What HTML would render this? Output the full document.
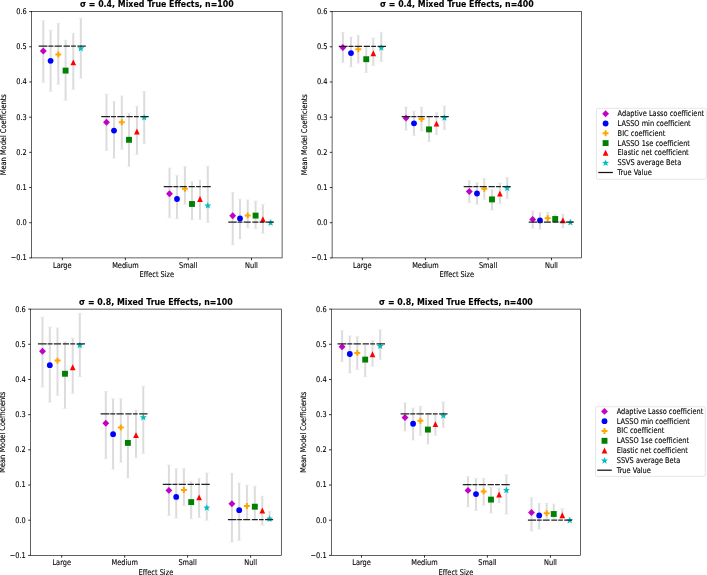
<!DOCTYPE html>
<html><head><meta charset="utf-8"><title>Mixed True Effects</title>
<style>
html,body{margin:0;padding:0;background:#fff;}
body{width:707px;height:575px;overflow:hidden;}
svg{display:block;}
text{font-family:'DejaVu Sans Condensed', 'DejaVu Sans', sans-serif;font-size:7.35px;fill:#000;stroke:#000;stroke-width:0.1px;}
text.ti{font-family:'DejaVu Sans Condensed','DejaVu Sans',sans-serif;font-weight:bold;font-size:8.75px;fill:#000;}
.eb{stroke:#dcdcdc;stroke-width:2;}
.cap{stroke:#e6e6e6;stroke-width:0.7;}
.tl{stroke:#222;stroke-width:1.25;fill:none;}
.sp{fill:none;stroke:#000;stroke-width:0.62;}
.tk{stroke:#000;stroke-width:0.8;}
.lg{fill:#fff;fill-opacity:0.8;stroke:#d6d6d6;stroke-width:0.62;}
.lgl{stroke:#111;stroke-width:1.25;}
</style></head>
<body><svg width="707" height="575" viewBox="0 0 707 575">
<rect width="707" height="575" fill="#fff"/>
<line x1="43.3" y1="20.8" x2="43.3" y2="82.3" class="eb"/>
<line x1="41.1" y1="20.8" x2="45.5" y2="20.8" class="cap"/>
<line x1="41.1" y1="82.3" x2="45.5" y2="82.3" class="cap"/>
<line x1="50.6" y1="30.2" x2="50.6" y2="91.25" class="eb"/>
<line x1="48.4" y1="30.2" x2="52.8" y2="30.2" class="cap"/>
<line x1="48.4" y1="91.25" x2="52.8" y2="91.25" class="cap"/>
<line x1="58.3" y1="23.3" x2="58.3" y2="84.4" class="eb"/>
<line x1="56.1" y1="23.3" x2="60.5" y2="23.3" class="cap"/>
<line x1="56.1" y1="84.4" x2="60.5" y2="84.4" class="cap"/>
<line x1="65.6" y1="40.2" x2="65.6" y2="100.2" class="eb"/>
<line x1="63.4" y1="40.2" x2="67.8" y2="40.2" class="cap"/>
<line x1="63.4" y1="100.2" x2="67.8" y2="100.2" class="cap"/>
<line x1="73.3" y1="33.3" x2="73.3" y2="89.4" class="eb"/>
<line x1="71.1" y1="33.3" x2="75.5" y2="33.3" class="cap"/>
<line x1="71.1" y1="89.4" x2="75.5" y2="89.4" class="cap"/>
<line x1="80.8" y1="18.3" x2="80.8" y2="78.1" class="eb"/>
<line x1="78.6" y1="18.3" x2="83" y2="18.3" class="cap"/>
<line x1="78.6" y1="78.1" x2="83" y2="78.1" class="cap"/>
<line x1="106.5" y1="94.2" x2="106.5" y2="150.2" class="eb"/>
<line x1="104.3" y1="94.2" x2="108.7" y2="94.2" class="cap"/>
<line x1="104.3" y1="150.2" x2="108.7" y2="150.2" class="cap"/>
<line x1="114" y1="101.7" x2="114" y2="158.1" class="eb"/>
<line x1="111.8" y1="101.7" x2="116.2" y2="101.7" class="cap"/>
<line x1="111.8" y1="158.1" x2="116.2" y2="158.1" class="cap"/>
<line x1="121.8" y1="96" x2="121.8" y2="149.2" class="eb"/>
<line x1="119.6" y1="96" x2="124" y2="96" class="cap"/>
<line x1="119.6" y1="149.2" x2="124" y2="149.2" class="cap"/>
<line x1="129" y1="113.3" x2="129" y2="166.25" class="eb"/>
<line x1="126.8" y1="113.3" x2="131.2" y2="113.3" class="cap"/>
<line x1="126.8" y1="166.25" x2="131.2" y2="166.25" class="cap"/>
<line x1="136.9" y1="106.25" x2="136.9" y2="154.4" class="eb"/>
<line x1="134.7" y1="106.25" x2="139.1" y2="106.25" class="cap"/>
<line x1="134.7" y1="154.4" x2="139.1" y2="154.4" class="cap"/>
<line x1="144.2" y1="91.5" x2="144.2" y2="143.5" class="eb"/>
<line x1="142" y1="91.5" x2="146.4" y2="91.5" class="cap"/>
<line x1="142" y1="143.5" x2="146.4" y2="143.5" class="cap"/>
<line x1="169.5" y1="168.1" x2="169.5" y2="217.7" class="eb"/>
<line x1="167.3" y1="168.1" x2="171.7" y2="168.1" class="cap"/>
<line x1="167.3" y1="217.7" x2="171.7" y2="217.7" class="cap"/>
<line x1="177" y1="175.4" x2="177" y2="218.75" class="eb"/>
<line x1="174.8" y1="175.4" x2="179.2" y2="175.4" class="cap"/>
<line x1="174.8" y1="218.75" x2="179.2" y2="218.75" class="cap"/>
<line x1="184.9" y1="166.7" x2="184.9" y2="204.2" class="eb"/>
<line x1="182.7" y1="166.7" x2="187.1" y2="166.7" class="cap"/>
<line x1="182.7" y1="204.2" x2="187.1" y2="204.2" class="cap"/>
<line x1="192" y1="181.7" x2="192" y2="219.8" class="eb"/>
<line x1="189.8" y1="181.7" x2="194.2" y2="181.7" class="cap"/>
<line x1="189.8" y1="219.8" x2="194.2" y2="219.8" class="cap"/>
<line x1="200" y1="180.2" x2="200" y2="219.2" class="eb"/>
<line x1="197.8" y1="180.2" x2="202.2" y2="180.2" class="cap"/>
<line x1="197.8" y1="219.2" x2="202.2" y2="219.2" class="cap"/>
<line x1="207.8" y1="166.25" x2="207.8" y2="222.3" class="eb"/>
<line x1="205.6" y1="166.25" x2="210" y2="166.25" class="cap"/>
<line x1="205.6" y1="222.3" x2="210" y2="222.3" class="cap"/>
<line x1="232.7" y1="192.3" x2="232.7" y2="244.8" class="eb"/>
<line x1="230.5" y1="192.3" x2="234.9" y2="192.3" class="cap"/>
<line x1="230.5" y1="244.8" x2="234.9" y2="244.8" class="cap"/>
<line x1="240" y1="199.2" x2="240" y2="238.75" class="eb"/>
<line x1="237.8" y1="199.2" x2="242.2" y2="199.2" class="cap"/>
<line x1="237.8" y1="238.75" x2="242.2" y2="238.75" class="cap"/>
<line x1="247.7" y1="200" x2="247.7" y2="227.7" class="eb"/>
<line x1="245.5" y1="200" x2="249.9" y2="200" class="cap"/>
<line x1="245.5" y1="227.7" x2="249.9" y2="227.7" class="cap"/>
<line x1="255.6" y1="201" x2="255.6" y2="228.3" class="eb"/>
<line x1="253.4" y1="201" x2="257.8" y2="201" class="cap"/>
<line x1="253.4" y1="228.3" x2="257.8" y2="228.3" class="cap"/>
<line x1="262.9" y1="204.4" x2="262.9" y2="233.3" class="eb"/>
<line x1="260.7" y1="204.4" x2="265.1" y2="204.4" class="cap"/>
<line x1="260.7" y1="233.3" x2="265.1" y2="233.3" class="cap"/>
<line x1="270.6" y1="219.5" x2="270.6" y2="225" class="eb"/>
<line x1="268.4" y1="219.5" x2="272.8" y2="219.5" class="cap"/>
<line x1="268.4" y1="225" x2="272.8" y2="225" class="cap"/>
<path d="M43.3 47.55L46.75 51L43.3 54.45L39.85 51Z" fill="#c400c8"/>
<circle cx="50.6" cy="60.8" r="2.9" fill="#0000ff"/>
<path d="M57.32 51.45L59.28 51.45L59.28 53.42L61.25 53.42L61.25 55.38L59.28 55.38L59.28 57.35L57.32 57.35L57.32 55.38L55.35 55.38L55.35 53.42L57.32 53.42Z" fill="#ffa500"/>
<rect x="62.65" y="67.65" width="5.9" height="5.9" fill="#008000"/>
<path d="M73.3 59.45L76.15 65.35L70.45 65.35Z" fill="#ff0000"/>
<path d="M80.8 44.8L81.72 47.18L84.27 47.32L82.29 48.94L82.95 51.4L80.8 50.02L78.65 51.4L79.31 48.94L77.33 47.32L79.88 47.18Z" fill="#00bfbf"/>
<path d="M106.5 118.85L109.95 122.3L106.5 125.75L103.05 122.3Z" fill="#c400c8"/>
<circle cx="114" cy="130.6" r="2.9" fill="#0000ff"/>
<path d="M120.82 119.25L122.78 119.25L122.78 121.22L124.75 121.22L124.75 123.18L122.78 123.18L122.78 125.15L120.82 125.15L120.82 123.18L118.85 123.18L118.85 121.22L120.82 121.22Z" fill="#ffa500"/>
<rect x="126.05" y="136.85" width="5.9" height="5.9" fill="#008000"/>
<path d="M136.9 128.55L139.75 134.45L134.05 134.45Z" fill="#ff0000"/>
<path d="M144.2 114L145.12 116.38L147.67 116.52L145.69 118.14L146.35 120.6L144.2 119.22L142.05 120.6L142.71 118.14L140.73 116.52L143.28 116.38Z" fill="#00bfbf"/>
<path d="M169.5 190.3L172.95 193.75L169.5 197.2L166.05 193.75Z" fill="#c400c8"/>
<circle cx="177" cy="199" r="2.9" fill="#0000ff"/>
<path d="M183.92 185.8L185.88 185.8L185.88 187.77L187.85 187.77L187.85 189.73L185.88 189.73L185.88 191.7L183.92 191.7L183.92 189.73L181.95 189.73L181.95 187.77L183.92 187.77Z" fill="#ffa500"/>
<rect x="189.05" y="201.05" width="5.9" height="5.9" fill="#008000"/>
<path d="M200 196.05L202.85 201.95L197.15 201.95Z" fill="#ff0000"/>
<path d="M207.8 202L208.72 204.38L211.27 204.52L209.29 206.14L209.95 208.6L207.8 207.22L205.65 208.6L206.31 206.14L204.33 204.52L206.88 204.38Z" fill="#00bfbf"/>
<path d="M232.7 212.35L236.15 215.8L232.7 219.25L229.25 215.8Z" fill="#c400c8"/>
<circle cx="240" cy="218.5" r="2.9" fill="#0000ff"/>
<path d="M246.72 212.45L248.68 212.45L248.68 214.42L250.65 214.42L250.65 216.38L248.68 216.38L248.68 218.35L246.72 218.35L246.72 216.38L244.75 216.38L244.75 214.42L246.72 214.42Z" fill="#ffa500"/>
<rect x="252.65" y="212.65" width="5.9" height="5.9" fill="#008000"/>
<path d="M262.9 216.35L265.75 222.25L260.05 222.25Z" fill="#ff0000"/>
<path d="M270.6 219.2L271.52 221.58L274.07 221.72L272.09 223.34L272.75 225.8L270.6 224.42L268.45 225.8L269.11 223.34L267.13 221.72L269.68 221.58Z" fill="#00bfbf"/>
<path d="M38.65 46.2H47.46M48.36 46.2H53.37M54.57 46.2H61.87M63.58 46.2H69.88M71.08 46.2H75.89M77.39 46.2H85.8" class="tl"/>
<path d="M101.25 116.7H110.12M111.03 116.7H116.07M117.29 116.7H124.65M126.36 116.7H132.71M133.93 116.7H138.77M140.28 116.7H148.75" class="tl"/>
<path d="M163.7 186.7H172.49M173.39 186.7H178.38M179.58 186.7H186.88M188.57 186.7H194.87M196.07 186.7H200.86M202.36 186.7H210.75" class="tl"/>
<path d="M228.3 222.2H236.79M237.66 222.2H242.49M243.64 222.2H250.69M252.33 222.2H258.41M259.56 222.2H264.2M265.64 222.2H273.75" class="tl"/>
<rect x="31.5" y="11.6" width="250.6" height="246.3" class="sp"/>
<line x1="29.2" y1="11.6" x2="31.5" y2="11.6" class="tk"/>
<text transform="translate(26.8 14) scale(1 1.07)" text-anchor="end">0.6</text>
<line x1="29.2" y1="46.79" x2="31.5" y2="46.79" class="tk"/>
<text transform="translate(26.8 49.19) scale(1 1.07)" text-anchor="end">0.5</text>
<line x1="29.2" y1="81.97" x2="31.5" y2="81.97" class="tk"/>
<text transform="translate(26.8 84.37) scale(1 1.07)" text-anchor="end">0.4</text>
<line x1="29.2" y1="117.16" x2="31.5" y2="117.16" class="tk"/>
<text transform="translate(26.8 119.56) scale(1 1.07)" text-anchor="end">0.3</text>
<line x1="29.2" y1="152.34" x2="31.5" y2="152.34" class="tk"/>
<text transform="translate(26.8 154.74) scale(1 1.07)" text-anchor="end">0.2</text>
<line x1="29.2" y1="187.53" x2="31.5" y2="187.53" class="tk"/>
<text transform="translate(26.8 189.93) scale(1 1.07)" text-anchor="end">0.1</text>
<line x1="29.2" y1="222.71" x2="31.5" y2="222.71" class="tk"/>
<text transform="translate(26.8 225.11) scale(1 1.07)" text-anchor="end">0.0</text>
<line x1="29.2" y1="257.9" x2="31.5" y2="257.9" class="tk"/>
<text transform="translate(26.8 260.3) scale(1 1.07)" text-anchor="end">−0.1</text>
<line x1="62.35" y1="257.9" x2="62.35" y2="260.2" class="tk"/>
<text transform="translate(62.35 267.7) scale(1 1.07)" text-anchor="middle">Large</text>
<line x1="125.36" y1="257.9" x2="125.36" y2="260.2" class="tk"/>
<text transform="translate(125.36 267.7) scale(1 1.07)" text-anchor="middle">Medium</text>
<line x1="188.2" y1="257.9" x2="188.2" y2="260.2" class="tk"/>
<text transform="translate(188.2 267.7) scale(1 1.07)" text-anchor="middle">Small</text>
<line x1="251.5" y1="257.9" x2="251.5" y2="260.2" class="tk"/>
<text transform="translate(251.5 267.7) scale(1 1.07)" text-anchor="middle">Null</text>
<text transform="translate(156.8 277) scale(1 1.07)" text-anchor="middle">Effect Size</text>
<text transform="translate(6.4 134.75) rotate(-90) scale(1 1.07)" text-anchor="middle">Mean Model Coefficients</text>
<text transform="translate(156.8 7) scale(1 1.0)" text-anchor="middle" class="ti">σ = 0.4, Mixed True Effects, n=100</text>
<line x1="342.9" y1="32.3" x2="342.9" y2="62.5" class="eb"/>
<line x1="340.7" y1="32.3" x2="345.1" y2="32.3" class="cap"/>
<line x1="340.7" y1="62.5" x2="345.1" y2="62.5" class="cap"/>
<line x1="351" y1="37.1" x2="351" y2="66.9" class="eb"/>
<line x1="348.8" y1="37.1" x2="353.2" y2="37.1" class="cap"/>
<line x1="348.8" y1="66.9" x2="353.2" y2="66.9" class="cap"/>
<line x1="358.3" y1="35.4" x2="358.3" y2="63.1" class="eb"/>
<line x1="356.1" y1="35.4" x2="360.5" y2="35.4" class="cap"/>
<line x1="356.1" y1="63.1" x2="360.5" y2="63.1" class="cap"/>
<line x1="366.25" y1="45.8" x2="366.25" y2="72.5" class="eb"/>
<line x1="364.05" y1="45.8" x2="368.45" y2="45.8" class="cap"/>
<line x1="364.05" y1="72.5" x2="368.45" y2="72.5" class="cap"/>
<line x1="373.3" y1="38.1" x2="373.3" y2="65.6" class="eb"/>
<line x1="371.1" y1="38.1" x2="375.5" y2="38.1" class="cap"/>
<line x1="371.1" y1="65.6" x2="375.5" y2="65.6" class="cap"/>
<line x1="381.25" y1="32.3" x2="381.25" y2="61.5" class="eb"/>
<line x1="379.05" y1="32.3" x2="383.45" y2="32.3" class="cap"/>
<line x1="379.05" y1="61.5" x2="383.45" y2="61.5" class="cap"/>
<line x1="406" y1="107.1" x2="406" y2="130" class="eb"/>
<line x1="403.8" y1="107.1" x2="408.2" y2="107.1" class="cap"/>
<line x1="403.8" y1="130" x2="408.2" y2="130" class="cap"/>
<line x1="414" y1="111.25" x2="414" y2="135.2" class="eb"/>
<line x1="411.8" y1="111.25" x2="416.2" y2="111.25" class="cap"/>
<line x1="411.8" y1="135.2" x2="416.2" y2="135.2" class="cap"/>
<line x1="421.5" y1="107.1" x2="421.5" y2="131" class="eb"/>
<line x1="419.3" y1="107.1" x2="423.7" y2="107.1" class="cap"/>
<line x1="419.3" y1="131" x2="423.7" y2="131" class="cap"/>
<line x1="429" y1="116.5" x2="429" y2="141.5" class="eb"/>
<line x1="426.8" y1="116.5" x2="431.2" y2="116.5" class="cap"/>
<line x1="426.8" y1="141.5" x2="431.2" y2="141.5" class="cap"/>
<line x1="436.5" y1="112.7" x2="436.5" y2="134.6" class="eb"/>
<line x1="434.3" y1="112.7" x2="438.7" y2="112.7" class="cap"/>
<line x1="434.3" y1="134.6" x2="438.7" y2="134.6" class="cap"/>
<line x1="444.4" y1="106" x2="444.4" y2="129.4" class="eb"/>
<line x1="442.2" y1="106" x2="446.6" y2="106" class="cap"/>
<line x1="442.2" y1="129.4" x2="446.6" y2="129.4" class="cap"/>
<line x1="469.3" y1="180.6" x2="469.3" y2="202.5" class="eb"/>
<line x1="467.1" y1="180.6" x2="471.5" y2="180.6" class="cap"/>
<line x1="467.1" y1="202.5" x2="471.5" y2="202.5" class="cap"/>
<line x1="477" y1="182.7" x2="477" y2="204.2" class="eb"/>
<line x1="474.8" y1="182.7" x2="479.2" y2="182.7" class="cap"/>
<line x1="474.8" y1="204.2" x2="479.2" y2="204.2" class="cap"/>
<line x1="484.3" y1="178.5" x2="484.3" y2="199.4" class="eb"/>
<line x1="482.1" y1="178.5" x2="486.5" y2="178.5" class="cap"/>
<line x1="482.1" y1="199.4" x2="486.5" y2="199.4" class="cap"/>
<line x1="492" y1="189.4" x2="492" y2="210" class="eb"/>
<line x1="489.8" y1="189.4" x2="494.2" y2="189.4" class="cap"/>
<line x1="489.8" y1="210" x2="494.2" y2="210" class="cap"/>
<line x1="499.9" y1="183.1" x2="499.9" y2="203.5" class="eb"/>
<line x1="497.7" y1="183.1" x2="502.1" y2="183.1" class="cap"/>
<line x1="497.7" y1="203.5" x2="502.1" y2="203.5" class="cap"/>
<line x1="507.2" y1="177.5" x2="507.2" y2="198.75" class="eb"/>
<line x1="505" y1="177.5" x2="509.4" y2="177.5" class="cap"/>
<line x1="505" y1="198.75" x2="509.4" y2="198.75" class="cap"/>
<line x1="532.7" y1="211" x2="532.7" y2="228.1" class="eb"/>
<line x1="530.5" y1="211" x2="534.9" y2="211" class="cap"/>
<line x1="530.5" y1="228.1" x2="534.9" y2="228.1" class="cap"/>
<line x1="540" y1="212.5" x2="540" y2="229.2" class="eb"/>
<line x1="537.8" y1="212.5" x2="542.2" y2="212.5" class="cap"/>
<line x1="537.8" y1="229.2" x2="542.2" y2="229.2" class="cap"/>
<line x1="547.7" y1="212.5" x2="547.7" y2="222.5" class="eb"/>
<line x1="545.5" y1="212.5" x2="549.9" y2="212.5" class="cap"/>
<line x1="545.5" y1="222.5" x2="549.9" y2="222.5" class="cap"/>
<line x1="555.2" y1="214.6" x2="555.2" y2="222.5" class="eb"/>
<line x1="553" y1="214.6" x2="557.4" y2="214.6" class="cap"/>
<line x1="553" y1="222.5" x2="557.4" y2="222.5" class="cap"/>
<line x1="562.9" y1="214.2" x2="562.9" y2="227.7" class="eb"/>
<line x1="560.7" y1="214.2" x2="565.1" y2="214.2" class="cap"/>
<line x1="560.7" y1="227.7" x2="565.1" y2="227.7" class="cap"/>
<line x1="570.4" y1="219.5" x2="570.4" y2="224.5" class="eb"/>
<line x1="568.2" y1="219.5" x2="572.6" y2="219.5" class="cap"/>
<line x1="568.2" y1="224.5" x2="572.6" y2="224.5" class="cap"/>
<path d="M342.9 44.05L346.35 47.5L342.9 50.95L339.45 47.5Z" fill="#c400c8"/>
<circle cx="351" cy="53.1" r="2.9" fill="#0000ff"/>
<path d="M357.32 46.25L359.28 46.25L359.28 48.22L361.25 48.22L361.25 50.18L359.28 50.18L359.28 52.15L357.32 52.15L357.32 50.18L355.35 50.18L355.35 48.22L357.32 48.22Z" fill="#ffa500"/>
<rect x="363.3" y="56.25" width="5.9" height="5.9" fill="#008000"/>
<path d="M373.3 50.25L376.15 56.15L370.45 56.15Z" fill="#ff0000"/>
<path d="M381.25 44.2L382.17 46.58L384.72 46.72L382.74 48.34L383.4 50.8L381.25 49.42L379.1 50.8L379.76 48.34L377.78 46.72L380.33 46.58Z" fill="#00bfbf"/>
<path d="M406 114.65L409.45 118.1L406 121.55L402.55 118.1Z" fill="#c400c8"/>
<circle cx="414" cy="123.3" r="2.9" fill="#0000ff"/>
<path d="M420.52 116.05L422.48 116.05L422.48 118.02L424.45 118.02L424.45 119.98L422.48 119.98L422.48 121.95L420.52 121.95L420.52 119.98L418.55 119.98L418.55 118.02L420.52 118.02Z" fill="#ffa500"/>
<rect x="426.05" y="126.45" width="5.9" height="5.9" fill="#008000"/>
<path d="M436.5 120.7L439.35 126.6L433.65 126.6Z" fill="#ff0000"/>
<path d="M444.4 114.2L445.32 116.58L447.87 116.72L445.89 118.34L446.55 120.8L444.4 119.42L442.25 120.8L442.91 118.34L440.93 116.72L443.48 116.58Z" fill="#00bfbf"/>
<path d="M469.3 188.05L472.75 191.5L469.3 194.95L465.85 191.5Z" fill="#c400c8"/>
<circle cx="477" cy="193.5" r="2.9" fill="#0000ff"/>
<path d="M483.32 185.8L485.28 185.8L485.28 187.77L487.25 187.77L487.25 189.73L485.28 189.73L485.28 191.7L483.32 191.7L483.32 189.73L481.35 189.73L481.35 187.77L483.32 187.77Z" fill="#ffa500"/>
<rect x="489.05" y="196.45" width="5.9" height="5.9" fill="#008000"/>
<path d="M499.9 190.7L502.75 196.6L497.05 196.6Z" fill="#ff0000"/>
<path d="M507.2 184.6L508.12 186.98L510.67 187.12L508.69 188.74L509.35 191.2L507.2 189.82L505.05 191.2L505.71 188.74L503.73 187.12L506.28 186.98Z" fill="#00bfbf"/>
<path d="M532.7 215.95L536.15 219.4L532.7 222.85L529.25 219.4Z" fill="#c400c8"/>
<circle cx="540" cy="220.4" r="2.9" fill="#0000ff"/>
<path d="M546.72 215.35L548.68 215.35L548.68 217.32L550.65 217.32L550.65 219.28L548.68 219.28L548.68 221.25L546.72 221.25L546.72 219.28L544.75 219.28L544.75 217.32L546.72 217.32Z" fill="#ffa500"/>
<rect x="552.25" y="216.05" width="5.9" height="5.9" fill="#008000"/>
<path d="M562.9 217.35L565.75 223.25L560.05 223.25Z" fill="#ff0000"/>
<path d="M570.4 218.8L571.32 221.18L573.87 221.32L571.89 222.94L572.55 225.4L570.4 224.02L568.25 225.4L568.91 222.94L566.93 221.32L569.48 221.18Z" fill="#00bfbf"/>
<path d="M338.75 46.25H347.58M348.48 46.25H353.5M354.7 46.25H362.02M363.73 46.25H370.05M371.25 46.25H376.07M377.57 46.25H386" class="tl"/>
<path d="M401.7 116.7H410.49M411.39 116.7H416.38M417.58 116.7H424.88M426.57 116.7H432.87M434.07 116.7H438.86M440.36 116.7H448.75" class="tl"/>
<path d="M463.7 186.7H472.49M473.39 186.7H478.38M479.58 186.7H486.88M488.57 186.7H494.87M496.07 186.7H500.86M502.36 186.7H510.75" class="tl"/>
<path d="M528.75 222.2H537.16M538.02 222.2H542.79M543.94 222.2H550.92M552.54 222.2H558.56M559.71 222.2H564.29M565.72 222.2H573.75" class="tl"/>
<rect x="332.1" y="11.6" width="249.4" height="246.3" class="sp"/>
<line x1="329.8" y1="11.6" x2="332.1" y2="11.6" class="tk"/>
<text transform="translate(327.4 14) scale(1 1.07)" text-anchor="end">0.6</text>
<line x1="329.8" y1="46.79" x2="332.1" y2="46.79" class="tk"/>
<text transform="translate(327.4 49.19) scale(1 1.07)" text-anchor="end">0.5</text>
<line x1="329.8" y1="81.97" x2="332.1" y2="81.97" class="tk"/>
<text transform="translate(327.4 84.37) scale(1 1.07)" text-anchor="end">0.4</text>
<line x1="329.8" y1="117.16" x2="332.1" y2="117.16" class="tk"/>
<text transform="translate(327.4 119.56) scale(1 1.07)" text-anchor="end">0.3</text>
<line x1="329.8" y1="152.34" x2="332.1" y2="152.34" class="tk"/>
<text transform="translate(327.4 154.74) scale(1 1.07)" text-anchor="end">0.2</text>
<line x1="329.8" y1="187.53" x2="332.1" y2="187.53" class="tk"/>
<text transform="translate(327.4 189.93) scale(1 1.07)" text-anchor="end">0.1</text>
<line x1="329.8" y1="222.71" x2="332.1" y2="222.71" class="tk"/>
<text transform="translate(327.4 225.11) scale(1 1.07)" text-anchor="end">0.0</text>
<line x1="329.8" y1="257.9" x2="332.1" y2="257.9" class="tk"/>
<text transform="translate(327.4 260.3) scale(1 1.07)" text-anchor="end">−0.1</text>
<line x1="362.35" y1="257.9" x2="362.35" y2="260.2" class="tk"/>
<text transform="translate(362.35 267.7) scale(1 1.07)" text-anchor="middle">Large</text>
<line x1="425.36" y1="257.9" x2="425.36" y2="260.2" class="tk"/>
<text transform="translate(425.36 267.7) scale(1 1.07)" text-anchor="middle">Medium</text>
<line x1="488.1" y1="257.9" x2="488.1" y2="260.2" class="tk"/>
<text transform="translate(488.1 267.7) scale(1 1.07)" text-anchor="middle">Small</text>
<line x1="551.5" y1="257.9" x2="551.5" y2="260.2" class="tk"/>
<text transform="translate(551.5 267.7) scale(1 1.07)" text-anchor="middle">Null</text>
<text transform="translate(456.8 277) scale(1 1.07)" text-anchor="middle">Effect Size</text>
<text transform="translate(307 134.75) rotate(-90) scale(1 1.07)" text-anchor="middle">Mean Model Coefficients</text>
<text transform="translate(456.8 7) scale(1 1.0)" text-anchor="middle" class="ti">σ = 0.4, Mixed True Effects, n=400</text>
<line x1="42.5" y1="317.3" x2="42.5" y2="387.1" class="eb"/>
<line x1="40.3" y1="317.3" x2="44.7" y2="317.3" class="cap"/>
<line x1="40.3" y1="387.1" x2="44.7" y2="387.1" class="cap"/>
<line x1="49.8" y1="327.1" x2="49.8" y2="402.1" class="eb"/>
<line x1="47.6" y1="327.1" x2="52" y2="327.1" class="cap"/>
<line x1="47.6" y1="402.1" x2="52" y2="402.1" class="cap"/>
<line x1="57.5" y1="327.9" x2="57.5" y2="395.4" class="eb"/>
<line x1="55.3" y1="327.9" x2="59.7" y2="327.9" class="cap"/>
<line x1="55.3" y1="395.4" x2="59.7" y2="395.4" class="cap"/>
<line x1="65" y1="341.7" x2="65" y2="408.5" class="eb"/>
<line x1="62.8" y1="341.7" x2="67.2" y2="341.7" class="cap"/>
<line x1="62.8" y1="408.5" x2="67.2" y2="408.5" class="cap"/>
<line x1="72.7" y1="338.1" x2="72.7" y2="393.3" class="eb"/>
<line x1="70.5" y1="338.1" x2="74.9" y2="338.1" class="cap"/>
<line x1="70.5" y1="393.3" x2="74.9" y2="393.3" class="cap"/>
<line x1="79.8" y1="313.3" x2="79.8" y2="376.7" class="eb"/>
<line x1="77.6" y1="313.3" x2="82" y2="313.3" class="cap"/>
<line x1="77.6" y1="376.7" x2="82" y2="376.7" class="cap"/>
<line x1="105.8" y1="391.5" x2="105.8" y2="458.5" class="eb"/>
<line x1="103.6" y1="391.5" x2="108" y2="391.5" class="cap"/>
<line x1="103.6" y1="458.5" x2="108" y2="458.5" class="cap"/>
<line x1="113.1" y1="398.75" x2="113.1" y2="469.2" class="eb"/>
<line x1="110.9" y1="398.75" x2="115.3" y2="398.75" class="cap"/>
<line x1="110.9" y1="469.2" x2="115.3" y2="469.2" class="cap"/>
<line x1="120.8" y1="398.75" x2="120.8" y2="462.3" class="eb"/>
<line x1="118.6" y1="398.75" x2="123" y2="398.75" class="cap"/>
<line x1="118.6" y1="462.3" x2="123" y2="462.3" class="cap"/>
<line x1="127.9" y1="415.4" x2="127.9" y2="477.9" class="eb"/>
<line x1="125.7" y1="415.4" x2="130.1" y2="415.4" class="cap"/>
<line x1="125.7" y1="477.9" x2="130.1" y2="477.9" class="cap"/>
<line x1="136" y1="410.2" x2="136" y2="457.7" class="eb"/>
<line x1="133.8" y1="410.2" x2="138.2" y2="410.2" class="cap"/>
<line x1="133.8" y1="457.7" x2="138.2" y2="457.7" class="cap"/>
<line x1="143.3" y1="386.25" x2="143.3" y2="453.3" class="eb"/>
<line x1="141.1" y1="386.25" x2="145.5" y2="386.25" class="cap"/>
<line x1="141.1" y1="453.3" x2="145.5" y2="453.3" class="cap"/>
<line x1="168.9" y1="465" x2="168.9" y2="515.4" class="eb"/>
<line x1="166.7" y1="465" x2="171.1" y2="465" class="cap"/>
<line x1="166.7" y1="515.4" x2="171.1" y2="515.4" class="cap"/>
<line x1="176.2" y1="468.75" x2="176.2" y2="518.1" class="eb"/>
<line x1="174" y1="468.75" x2="178.4" y2="468.75" class="cap"/>
<line x1="174" y1="518.1" x2="178.4" y2="518.1" class="cap"/>
<line x1="183.9" y1="468.75" x2="183.9" y2="505.6" class="eb"/>
<line x1="181.7" y1="468.75" x2="186.1" y2="468.75" class="cap"/>
<line x1="181.7" y1="505.6" x2="186.1" y2="505.6" class="cap"/>
<line x1="191.2" y1="481.25" x2="191.2" y2="518.75" class="eb"/>
<line x1="189" y1="481.25" x2="193.4" y2="481.25" class="cap"/>
<line x1="189" y1="518.75" x2="193.4" y2="518.75" class="cap"/>
<line x1="199.1" y1="478.5" x2="199.1" y2="517.5" class="eb"/>
<line x1="196.9" y1="478.5" x2="201.3" y2="478.5" class="cap"/>
<line x1="196.9" y1="517.5" x2="201.3" y2="517.5" class="cap"/>
<line x1="206.8" y1="472.9" x2="206.8" y2="520.2" class="eb"/>
<line x1="204.6" y1="472.9" x2="209" y2="472.9" class="cap"/>
<line x1="204.6" y1="520.2" x2="209" y2="520.2" class="cap"/>
<line x1="231.9" y1="473.3" x2="231.9" y2="542.1" class="eb"/>
<line x1="229.7" y1="473.3" x2="234.1" y2="473.3" class="cap"/>
<line x1="229.7" y1="542.1" x2="234.1" y2="542.1" class="cap"/>
<line x1="239.2" y1="483.1" x2="239.2" y2="540.4" class="eb"/>
<line x1="237" y1="483.1" x2="241.4" y2="483.1" class="cap"/>
<line x1="237" y1="540.4" x2="241.4" y2="540.4" class="cap"/>
<line x1="246.9" y1="485.2" x2="246.9" y2="519.6" class="eb"/>
<line x1="244.7" y1="485.2" x2="249.1" y2="485.2" class="cap"/>
<line x1="244.7" y1="519.6" x2="249.1" y2="519.6" class="cap"/>
<line x1="254.8" y1="486.25" x2="254.8" y2="519.6" class="eb"/>
<line x1="252.6" y1="486.25" x2="257" y2="486.25" class="cap"/>
<line x1="252.6" y1="519.6" x2="257" y2="519.6" class="cap"/>
<line x1="262.3" y1="496.25" x2="262.3" y2="525.2" class="eb"/>
<line x1="260.1" y1="496.25" x2="264.5" y2="496.25" class="cap"/>
<line x1="260.1" y1="525.2" x2="264.5" y2="525.2" class="cap"/>
<line x1="269.6" y1="511.25" x2="269.6" y2="521.25" class="eb"/>
<line x1="267.4" y1="511.25" x2="271.8" y2="511.25" class="cap"/>
<line x1="267.4" y1="521.25" x2="271.8" y2="521.25" class="cap"/>
<path d="M42.5 347.8L45.95 351.25L42.5 354.7L39.05 351.25Z" fill="#c400c8"/>
<circle cx="49.8" cy="365.2" r="2.9" fill="#0000ff"/>
<path d="M56.52 357.65L58.48 357.65L58.48 359.62L60.45 359.62L60.45 361.58L58.48 361.58L58.48 363.55L56.52 363.55L56.52 361.58L54.55 361.58L54.55 359.62L56.52 359.62Z" fill="#ffa500"/>
<rect x="62.05" y="370.8" width="5.9" height="5.9" fill="#008000"/>
<path d="M72.7 364.25L75.55 370.15L69.85 370.15Z" fill="#ff0000"/>
<path d="M79.8 341.7L80.72 344.08L83.27 344.22L81.29 345.84L81.95 348.3L79.8 346.92L77.65 348.3L78.31 345.84L76.33 344.22L78.88 344.08Z" fill="#00bfbf"/>
<path d="M105.8 419.85L109.25 423.3L105.8 426.75L102.35 423.3Z" fill="#c400c8"/>
<circle cx="113.1" cy="434.2" r="2.9" fill="#0000ff"/>
<path d="M119.82 424.55L121.78 424.55L121.78 426.52L123.75 426.52L123.75 428.48L121.78 428.48L121.78 430.45L119.82 430.45L119.82 428.48L117.85 428.48L117.85 426.52L119.82 426.52Z" fill="#ffa500"/>
<rect x="124.95" y="439.95" width="5.9" height="5.9" fill="#008000"/>
<path d="M136 432.15L138.85 438.05L133.15 438.05Z" fill="#ff0000"/>
<path d="M143.3 413.8L144.22 416.18L146.77 416.32L144.79 417.94L145.45 420.4L143.3 419.02L141.15 420.4L141.81 417.94L139.83 416.32L142.38 416.18Z" fill="#00bfbf"/>
<path d="M168.9 486.95L172.35 490.4L168.9 493.85L165.45 490.4Z" fill="#c400c8"/>
<circle cx="176.2" cy="496.9" r="2.9" fill="#0000ff"/>
<path d="M182.92 487.05L184.88 487.05L184.88 489.02L186.85 489.02L186.85 490.98L184.88 490.98L184.88 492.95L182.92 492.95L182.92 490.98L180.95 490.98L180.95 489.02L182.92 489.02Z" fill="#ffa500"/>
<rect x="188.25" y="499.15" width="5.9" height="5.9" fill="#008000"/>
<path d="M199.1 494.45L201.95 500.35L196.25 500.35Z" fill="#ff0000"/>
<path d="M206.8 504.2L207.72 506.58L210.27 506.72L208.29 508.34L208.95 510.8L206.8 509.42L204.65 510.8L205.31 508.34L203.33 506.72L205.88 506.58Z" fill="#00bfbf"/>
<path d="M231.9 500.3L235.35 503.75L231.9 507.2L228.45 503.75Z" fill="#c400c8"/>
<circle cx="239.2" cy="510.2" r="2.9" fill="#0000ff"/>
<path d="M245.92 503.05L247.88 503.05L247.88 505.02L249.85 505.02L249.85 506.98L247.88 506.98L247.88 508.95L245.92 508.95L245.92 506.98L243.95 506.98L243.95 505.02L245.92 505.02Z" fill="#ffa500"/>
<rect x="251.85" y="503.75" width="5.9" height="5.9" fill="#008000"/>
<path d="M262.3 507.55L265.15 513.45L259.45 513.45Z" fill="#ff0000"/>
<path d="M269.6 515.2L270.52 517.58L273.07 517.72L271.09 519.34L271.75 521.8L269.6 520.42L267.45 521.8L268.11 519.34L266.13 517.72L268.68 517.58Z" fill="#00bfbf"/>
<path d="M37.9 343.75H46.7M47.6 343.75H52.6M53.8 343.75H61.1M62.8 343.75H69.1M70.3 343.75H75.1M76.6 343.75H85" class="tl"/>
<path d="M100.6 413.75H109.36M110.26 413.75H115.24M116.43 413.75H123.7M125.39 413.75H131.67M132.86 413.75H137.64M139.14 413.75H147.5" class="tl"/>
<path d="M162.8 484.4H171.56M172.46 484.4H177.44M178.63 484.4H185.9M187.59 484.4H193.87M195.06 484.4H199.84M201.34 484.4H209.7" class="tl"/>
<path d="M227.9 519.6H236.35M237.21 519.6H242.01M243.16 519.6H250.16M251.8 519.6H257.84M258.99 519.6H263.6M265.04 519.6H273.1" class="tl"/>
<rect x="30.5" y="309.1" width="250.8" height="246.3" class="sp"/>
<line x1="28.2" y1="309.1" x2="30.5" y2="309.1" class="tk"/>
<text transform="translate(25.8 311.5) scale(1 1.07)" text-anchor="end">0.6</text>
<line x1="28.2" y1="344.29" x2="30.5" y2="344.29" class="tk"/>
<text transform="translate(25.8 346.69) scale(1 1.07)" text-anchor="end">0.5</text>
<line x1="28.2" y1="379.47" x2="30.5" y2="379.47" class="tk"/>
<text transform="translate(25.8 381.87) scale(1 1.07)" text-anchor="end">0.4</text>
<line x1="28.2" y1="414.66" x2="30.5" y2="414.66" class="tk"/>
<text transform="translate(25.8 417.06) scale(1 1.07)" text-anchor="end">0.3</text>
<line x1="28.2" y1="449.84" x2="30.5" y2="449.84" class="tk"/>
<text transform="translate(25.8 452.24) scale(1 1.07)" text-anchor="end">0.2</text>
<line x1="28.2" y1="485.03" x2="30.5" y2="485.03" class="tk"/>
<text transform="translate(25.8 487.43) scale(1 1.07)" text-anchor="end">0.1</text>
<line x1="28.2" y1="520.21" x2="30.5" y2="520.21" class="tk"/>
<text transform="translate(25.8 522.61) scale(1 1.07)" text-anchor="end">0.0</text>
<line x1="28.2" y1="555.4" x2="30.5" y2="555.4" class="tk"/>
<text transform="translate(25.8 557.8) scale(1 1.07)" text-anchor="end">−0.1</text>
<line x1="61.7" y1="555.4" x2="61.7" y2="557.7" class="tk"/>
<text transform="translate(61.7 565.2) scale(1 1.07)" text-anchor="middle">Large</text>
<line x1="124.7" y1="555.4" x2="124.7" y2="557.7" class="tk"/>
<text transform="translate(124.7 565.2) scale(1 1.07)" text-anchor="middle">Medium</text>
<line x1="187.6" y1="555.4" x2="187.6" y2="557.7" class="tk"/>
<text transform="translate(187.6 565.2) scale(1 1.07)" text-anchor="middle">Small</text>
<line x1="250.6" y1="555.4" x2="250.6" y2="557.7" class="tk"/>
<text transform="translate(250.6 565.2) scale(1 1.07)" text-anchor="middle">Null</text>
<text transform="translate(155.9 574.5) scale(1 1.07)" text-anchor="middle">Effect Size</text>
<text transform="translate(5.4 432.25) rotate(-90) scale(1 1.07)" text-anchor="middle">Mean Model Coefficients</text>
<text transform="translate(155.9 304.9) scale(1 1.0)" text-anchor="middle" class="ti">σ = 0.8, Mixed True Effects, n=100</text>
<line x1="342.1" y1="330.8" x2="342.1" y2="361.5" class="eb"/>
<line x1="339.9" y1="330.8" x2="344.3" y2="330.8" class="cap"/>
<line x1="339.9" y1="361.5" x2="344.3" y2="361.5" class="cap"/>
<line x1="349.8" y1="336" x2="349.8" y2="372.9" class="eb"/>
<line x1="347.6" y1="336" x2="352" y2="336" class="cap"/>
<line x1="347.6" y1="372.9" x2="352" y2="372.9" class="cap"/>
<line x1="357.3" y1="336.7" x2="357.3" y2="369.4" class="eb"/>
<line x1="355.1" y1="336.7" x2="359.5" y2="336.7" class="cap"/>
<line x1="355.1" y1="369.4" x2="359.5" y2="369.4" class="cap"/>
<line x1="365.2" y1="345.4" x2="365.2" y2="376.7" class="eb"/>
<line x1="363" y1="345.4" x2="367.4" y2="345.4" class="cap"/>
<line x1="363" y1="376.7" x2="367.4" y2="376.7" class="cap"/>
<line x1="372.5" y1="340.6" x2="372.5" y2="366.25" class="eb"/>
<line x1="370.3" y1="340.6" x2="374.7" y2="340.6" class="cap"/>
<line x1="370.3" y1="366.25" x2="374.7" y2="366.25" class="cap"/>
<line x1="380.2" y1="329.8" x2="380.2" y2="359.4" class="eb"/>
<line x1="378" y1="329.8" x2="382.4" y2="329.8" class="cap"/>
<line x1="378" y1="359.4" x2="382.4" y2="359.4" class="cap"/>
<line x1="405" y1="402.9" x2="405" y2="431" class="eb"/>
<line x1="402.8" y1="402.9" x2="407.2" y2="402.9" class="cap"/>
<line x1="402.8" y1="431" x2="407.2" y2="431" class="cap"/>
<line x1="413.1" y1="408.1" x2="413.1" y2="440" class="eb"/>
<line x1="410.9" y1="408.1" x2="415.3" y2="408.1" class="cap"/>
<line x1="410.9" y1="440" x2="415.3" y2="440" class="cap"/>
<line x1="420.4" y1="406.25" x2="420.4" y2="435.2" class="eb"/>
<line x1="418.2" y1="406.25" x2="422.6" y2="406.25" class="cap"/>
<line x1="418.2" y1="435.2" x2="422.6" y2="435.2" class="cap"/>
<line x1="427.9" y1="414.4" x2="427.9" y2="444" class="eb"/>
<line x1="425.7" y1="414.4" x2="430.1" y2="414.4" class="cap"/>
<line x1="425.7" y1="444" x2="430.1" y2="444" class="cap"/>
<line x1="435.4" y1="414.4" x2="435.4" y2="435.2" class="eb"/>
<line x1="433.2" y1="414.4" x2="437.6" y2="414.4" class="cap"/>
<line x1="433.2" y1="435.2" x2="437.6" y2="435.2" class="cap"/>
<line x1="443.3" y1="401.9" x2="443.3" y2="427.5" class="eb"/>
<line x1="441.1" y1="401.9" x2="445.5" y2="401.9" class="cap"/>
<line x1="441.1" y1="427.5" x2="445.5" y2="427.5" class="cap"/>
<line x1="468" y1="476.5" x2="468" y2="506.7" class="eb"/>
<line x1="465.8" y1="476.5" x2="470.2" y2="476.5" class="cap"/>
<line x1="465.8" y1="506.7" x2="470.2" y2="506.7" class="cap"/>
<line x1="476" y1="478.5" x2="476" y2="510.4" class="eb"/>
<line x1="473.8" y1="478.5" x2="478.2" y2="478.5" class="cap"/>
<line x1="473.8" y1="510.4" x2="478.2" y2="510.4" class="cap"/>
<line x1="483.65" y1="478.5" x2="483.65" y2="505.2" class="eb"/>
<line x1="481.45" y1="478.5" x2="485.85" y2="478.5" class="cap"/>
<line x1="481.45" y1="505.2" x2="485.85" y2="505.2" class="cap"/>
<line x1="491" y1="487.1" x2="491" y2="512.9" class="eb"/>
<line x1="488.8" y1="487.1" x2="493.2" y2="487.1" class="cap"/>
<line x1="488.8" y1="512.9" x2="493.2" y2="512.9" class="cap"/>
<line x1="499.1" y1="488.3" x2="499.1" y2="502.5" class="eb"/>
<line x1="496.9" y1="488.3" x2="501.3" y2="488.3" class="cap"/>
<line x1="496.9" y1="502.5" x2="501.3" y2="502.5" class="cap"/>
<line x1="506.4" y1="474.8" x2="506.4" y2="514" class="eb"/>
<line x1="504.2" y1="474.8" x2="508.6" y2="474.8" class="cap"/>
<line x1="504.2" y1="514" x2="508.6" y2="514" class="cap"/>
<line x1="531.5" y1="497.7" x2="531.5" y2="531" class="eb"/>
<line x1="529.3" y1="497.7" x2="533.7" y2="497.7" class="cap"/>
<line x1="529.3" y1="531" x2="533.7" y2="531" class="cap"/>
<line x1="539.2" y1="503.3" x2="539.2" y2="529" class="eb"/>
<line x1="537" y1="503.3" x2="541.4" y2="503.3" class="cap"/>
<line x1="537" y1="529" x2="541.4" y2="529" class="cap"/>
<line x1="546.7" y1="503.3" x2="546.7" y2="518.5" class="eb"/>
<line x1="544.5" y1="503.3" x2="548.9" y2="503.3" class="cap"/>
<line x1="544.5" y1="518.5" x2="548.9" y2="518.5" class="cap"/>
<line x1="553.75" y1="504.2" x2="553.75" y2="518.5" class="eb"/>
<line x1="551.55" y1="504.2" x2="555.95" y2="504.2" class="cap"/>
<line x1="551.55" y1="518.5" x2="555.95" y2="518.5" class="cap"/>
<line x1="562.3" y1="508.75" x2="562.3" y2="518.5" class="eb"/>
<line x1="560.1" y1="508.75" x2="564.5" y2="508.75" class="cap"/>
<line x1="560.1" y1="518.5" x2="564.5" y2="518.5" class="cap"/>
<line x1="569.7" y1="517" x2="569.7" y2="522" class="eb"/>
<line x1="567.5" y1="517" x2="571.9" y2="517" class="cap"/>
<line x1="567.5" y1="522" x2="571.9" y2="522" class="cap"/>
<path d="M342.1 343.25L345.55 346.7L342.1 350.15L338.65 346.7Z" fill="#c400c8"/>
<circle cx="349.8" cy="354" r="2.9" fill="#0000ff"/>
<path d="M356.32 349.95L358.28 349.95L358.28 351.92L360.25 351.92L360.25 353.88L358.28 353.88L358.28 355.85L356.32 355.85L356.32 353.88L354.35 353.88L354.35 351.92L356.32 351.92Z" fill="#ffa500"/>
<rect x="362.25" y="356.65" width="5.9" height="5.9" fill="#008000"/>
<path d="M372.5 351.35L375.35 357.25L369.65 357.25Z" fill="#ff0000"/>
<path d="M380.2 342.5L381.12 344.88L383.67 345.02L381.69 346.64L382.35 349.1L380.2 347.72L378.05 349.1L378.71 346.64L376.73 345.02L379.28 344.88Z" fill="#00bfbf"/>
<path d="M405 414.05L408.45 417.5L405 420.95L401.55 417.5Z" fill="#c400c8"/>
<circle cx="413.1" cy="423.75" r="2.9" fill="#0000ff"/>
<path d="M419.42 417.85L421.38 417.85L421.38 419.82L423.35 419.82L423.35 421.78L421.38 421.78L421.38 423.75L419.42 423.75L419.42 421.78L417.45 421.78L417.45 419.82L419.42 419.82Z" fill="#ffa500"/>
<rect x="424.95" y="426.65" width="5.9" height="5.9" fill="#008000"/>
<path d="M435.4 421.15L438.25 427.05L432.55 427.05Z" fill="#ff0000"/>
<path d="M443.3 412.1L444.22 414.48L446.77 414.62L444.79 416.24L445.45 418.7L443.3 417.32L441.15 418.7L441.81 416.24L439.83 414.62L442.38 414.48Z" fill="#00bfbf"/>
<path d="M468 486.95L471.45 490.4L468 493.85L464.55 490.4Z" fill="#c400c8"/>
<circle cx="476" cy="494.1" r="2.9" fill="#0000ff"/>
<path d="M482.67 488.45L484.63 488.45L484.63 490.42L486.6 490.42L486.6 492.38L484.63 492.38L484.63 494.35L482.67 494.35L482.67 492.38L480.7 492.38L480.7 490.42L482.67 490.42Z" fill="#ffa500"/>
<rect x="488.05" y="496.65" width="5.9" height="5.9" fill="#008000"/>
<path d="M499.1 491.55L501.95 497.45L496.25 497.45Z" fill="#ff0000"/>
<path d="M506.4 486.7L507.32 489.08L509.87 489.22L507.89 490.84L508.55 493.3L506.4 491.92L504.25 493.3L504.91 490.84L502.93 489.22L505.48 489.08Z" fill="#00bfbf"/>
<path d="M531.5 509.05L534.95 512.5L531.5 515.95L528.05 512.5Z" fill="#c400c8"/>
<circle cx="539.2" cy="515.4" r="2.9" fill="#0000ff"/>
<path d="M545.72 510.35L547.68 510.35L547.68 512.32L549.65 512.32L549.65 514.28L547.68 514.28L547.68 516.25L545.72 516.25L545.72 514.28L543.75 514.28L543.75 512.32L545.72 512.32Z" fill="#ffa500"/>
<rect x="550.8" y="511.05" width="5.9" height="5.9" fill="#008000"/>
<path d="M562.3 512.35L565.15 518.25L559.45 518.25Z" fill="#ff0000"/>
<path d="M569.7 516.8L570.62 519.18L573.17 519.32L571.19 520.94L571.85 523.4L569.7 522.02L567.55 523.4L568.21 520.94L566.23 519.32L568.78 519.18Z" fill="#00bfbf"/>
<path d="M337.5 343.75H346.37M347.28 343.75H352.32M353.54 343.75H360.9M362.61 343.75H368.96M370.18 343.75H375.02M376.53 343.75H385" class="tl"/>
<path d="M400.6 413.75H409.36M410.26 413.75H415.24M416.43 413.75H423.7M425.39 413.75H431.67M432.86 413.75H437.64M439.14 413.75H447.5" class="tl"/>
<path d="M462.8 484.6H471.56M472.46 484.6H477.44M478.63 484.6H485.9M487.59 484.6H493.87M495.06 484.6H499.84M501.34 484.6H509.7" class="tl"/>
<path d="M527.9 520.1H536.16M537 520.1H541.69M542.82 520.1H549.67M551.27 520.1H557.18M558.31 520.1H562.81M564.22 520.1H572.1" class="tl"/>
<rect x="331.3" y="309.1" width="249.3" height="246.3" class="sp"/>
<line x1="329" y1="309.1" x2="331.3" y2="309.1" class="tk"/>
<text transform="translate(326.6 311.5) scale(1 1.07)" text-anchor="end">0.6</text>
<line x1="329" y1="344.29" x2="331.3" y2="344.29" class="tk"/>
<text transform="translate(326.6 346.69) scale(1 1.07)" text-anchor="end">0.5</text>
<line x1="329" y1="379.47" x2="331.3" y2="379.47" class="tk"/>
<text transform="translate(326.6 381.87) scale(1 1.07)" text-anchor="end">0.4</text>
<line x1="329" y1="414.66" x2="331.3" y2="414.66" class="tk"/>
<text transform="translate(326.6 417.06) scale(1 1.07)" text-anchor="end">0.3</text>
<line x1="329" y1="449.84" x2="331.3" y2="449.84" class="tk"/>
<text transform="translate(326.6 452.24) scale(1 1.07)" text-anchor="end">0.2</text>
<line x1="329" y1="485.03" x2="331.3" y2="485.03" class="tk"/>
<text transform="translate(326.6 487.43) scale(1 1.07)" text-anchor="end">0.1</text>
<line x1="329" y1="520.21" x2="331.3" y2="520.21" class="tk"/>
<text transform="translate(326.6 522.61) scale(1 1.07)" text-anchor="end">0.0</text>
<line x1="329" y1="555.4" x2="331.3" y2="555.4" class="tk"/>
<text transform="translate(326.6 557.8) scale(1 1.07)" text-anchor="end">−0.1</text>
<line x1="361.5" y1="555.4" x2="361.5" y2="557.7" class="tk"/>
<text transform="translate(361.5 565.2) scale(1 1.07)" text-anchor="middle">Large</text>
<line x1="424.5" y1="555.4" x2="424.5" y2="557.7" class="tk"/>
<text transform="translate(424.5 565.2) scale(1 1.07)" text-anchor="middle">Medium</text>
<line x1="487.4" y1="555.4" x2="487.4" y2="557.7" class="tk"/>
<text transform="translate(487.4 565.2) scale(1 1.07)" text-anchor="middle">Small</text>
<line x1="550.45" y1="555.4" x2="550.45" y2="557.7" class="tk"/>
<text transform="translate(550.45 565.2) scale(1 1.07)" text-anchor="middle">Null</text>
<text transform="translate(455.95 574.5) scale(1 1.07)" text-anchor="middle">Effect Size</text>
<text transform="translate(306.2 432.25) rotate(-90) scale(1 1.07)" text-anchor="middle">Mean Model Coefficients</text>
<text transform="translate(455.95 304.9) scale(1 1.0)" text-anchor="middle" class="ti">σ = 0.8, Mixed True Effects, n=400</text>
<rect x="596.5" y="108.3" width="109.8" height="71" rx="1.5" class="lg"/>
<path d="M605.6 110.25L609.05 113.7L605.6 117.15L602.15 113.7Z" fill="#c400c8"/>
<text transform="translate(617.6 116.1) scale(1 1.07)">Adaptive Lasso coefficient</text>
<circle cx="605.6" cy="123.5" r="2.9" fill="#0000ff"/>
<text transform="translate(617.6 125.9) scale(1 1.07)">LASSO min coefficient</text>
<path d="M604.62 130.35L606.58 130.35L606.58 132.32L608.55 132.32L608.55 134.28L606.58 134.28L606.58 136.25L604.62 136.25L604.62 134.28L602.65 134.28L602.65 132.32L604.62 132.32Z" fill="#ffa500"/>
<text transform="translate(617.6 135.7) scale(1 1.07)">BIC coefficient</text>
<rect x="602.65" y="140.15" width="5.9" height="5.9" fill="#008000"/>
<text transform="translate(617.6 145.5) scale(1 1.07)">LASSO 1se coefficient</text>
<path d="M605.6 149.85L608.45 155.75L602.75 155.75Z" fill="#ff0000"/>
<text transform="translate(617.6 155.3) scale(1 1.07)">Elastic net coefficient</text>
<path d="M605.6 159.4L606.52 161.78L609.07 161.92L607.09 163.54L607.75 166L605.6 164.62L603.45 166L604.11 163.54L602.13 161.92L604.68 161.78Z" fill="#00bfbf"/>
<text transform="translate(617.6 165.1) scale(1 1.07)">SSVS average Beta</text>
<line x1="598.3" y1="172.5" x2="612.9" y2="172.5" class="lgl"/>
<text transform="translate(617.6 174.9) scale(1 1.07)">True Value</text>
<rect x="595.5" y="406.7" width="109.8" height="69.7" rx="1.5" class="lg"/>
<path d="M604.5 407.95L607.95 411.4L604.5 414.85L601.05 411.4Z" fill="#c400c8"/>
<text transform="translate(616.7 413.8) scale(1 1.07)">Adaptive Lasso coefficient</text>
<circle cx="604.5" cy="421.2" r="2.9" fill="#0000ff"/>
<text transform="translate(616.7 423.6) scale(1 1.07)">LASSO min coefficient</text>
<path d="M603.52 428.05L605.48 428.05L605.48 430.02L607.45 430.02L607.45 431.98L605.48 431.98L605.48 433.95L603.52 433.95L603.52 431.98L601.55 431.98L601.55 430.02L603.52 430.02Z" fill="#ffa500"/>
<text transform="translate(616.7 433.4) scale(1 1.07)">BIC coefficient</text>
<rect x="601.55" y="437.85" width="5.9" height="5.9" fill="#008000"/>
<text transform="translate(616.7 443.2) scale(1 1.07)">LASSO 1se coefficient</text>
<path d="M604.5 447.55L607.35 453.45L601.65 453.45Z" fill="#ff0000"/>
<text transform="translate(616.7 453) scale(1 1.07)">Elastic net coefficient</text>
<path d="M604.5 457.1L605.42 459.48L607.97 459.62L605.99 461.24L606.65 463.7L604.5 462.32L602.35 463.7L603.01 461.24L601.03 459.62L603.58 459.48Z" fill="#00bfbf"/>
<text transform="translate(616.7 462.8) scale(1 1.07)">SSVS average Beta</text>
<line x1="597.2" y1="470.2" x2="611.8" y2="470.2" class="lgl"/>
<text transform="translate(616.7 472.6) scale(1 1.07)">True Value</text>
</svg></body></html>
